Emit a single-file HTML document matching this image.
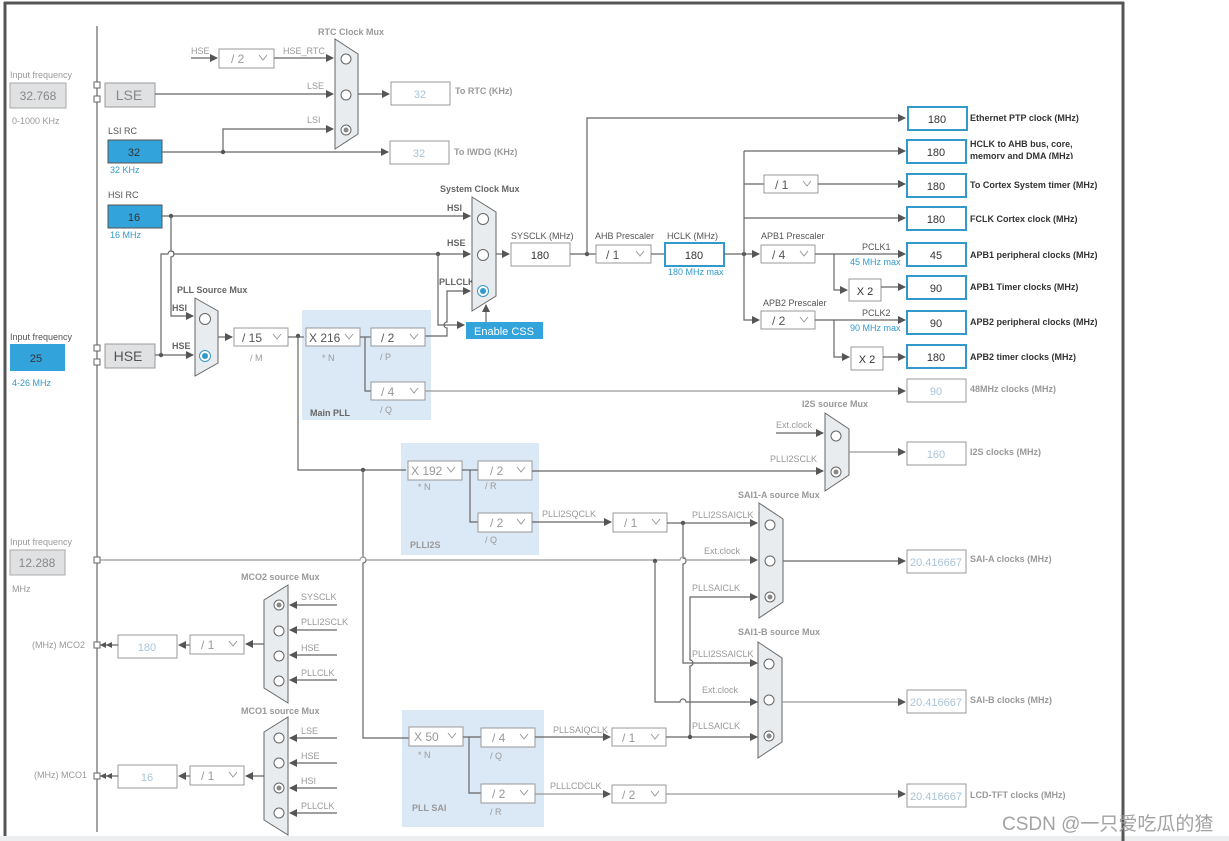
<!DOCTYPE html>
<html><head><meta charset="utf-8"><style>
html,body{margin:0;padding:0;background:#fff;}
svg{display:block;font-family:"Liberation Sans",sans-serif;}
.l{stroke:#666;stroke-width:1.2;fill:none;}
.lg{stroke:#999;stroke-width:1.2;fill:none;}
.dd{fill:#fff;stroke:#999;stroke-width:1;}
.ch{stroke:#999;stroke-width:1;fill:none;}
.mux{fill:#e9ecef;stroke:#666;stroke-width:1;}
.c{fill:#fff;stroke:#666;stroke-width:1;}
.t{font-size:9px;fill:#555;}
.tb{font-size:9px;fill:#333;font-weight:bold;}
.tg{font-size:9px;fill:#999;}
.dg{font-size:12px;fill:#999;}
.tgb{font-size:9px;fill:#999;font-weight:bold;}
.tm{font-size:9px;fill:#666;font-weight:bold;}
.v{font-size:11px;fill:#333;text-anchor:middle;}
.vg{font-size:11px;fill:#aac4d8;text-anchor:middle;}
.vd{font-size:12px;fill:#555;}
.blu{font-size:9px;fill:#3399cc;}
.ob{fill:#fff;stroke:#3399cc;stroke-width:2;}
.og{fill:#fff;stroke:#999;stroke-width:1;}
.pll{fill:#dbe8f5;}
</style></head><body>
<svg width="1229" height="841" viewBox="0 0 1229 841" xmlns="http://www.w3.org/2000/svg">
<defs>
<marker id="a" markerWidth="8" markerHeight="8" refX="7" refY="4" orient="auto" markerUnits="userSpaceOnUse"><path d="M0,0 L8,4 L0,8 z" fill="#555"/></marker>
</defs>
<rect x="0" y="836" width="1229" height="5" fill="#eceeef"/>
<line x1="4" y1="3" x2="1124" y2="3" stroke="#555" stroke-width="3"/>
<line x1="5" y1="2" x2="5" y2="836" stroke="#555" stroke-width="3"/>
<line x1="1123" y1="2" x2="1123" y2="841" stroke="#555" stroke-width="3"/>

<rect class="pll" x="302" y="310" width="129" height="110"/>
<rect class="pll" x="401" y="443" width="138" height="112"/>
<rect class="pll" x="402" y="710" width="142" height="117"/>

<line class="l" x1="97" y1="26" x2="97" y2="832"/>

<text class="tg" x="10" y="78">Input frequency</text>
<rect x="10" y="83" width="56" height="25" fill="#dfe1e3" stroke="#aaa"/>
<text x="38" y="100" font-size="12" fill="#888" text-anchor="middle">32.768</text>
<text class="tg" x="12" y="124">0-1000 KHz</text>
<rect x="105" y="83" width="50" height="24" fill="#dfe1e3" stroke="#999"/>
<text x="129" y="100" font-size="14" fill="#888" text-anchor="middle">LSE</text>
<rect x="94" y="82" width="6" height="6" fill="#fff" stroke="#666"/>
<rect x="94" y="96" width="6" height="6" fill="#fff" stroke="#666"/>

<text class="t" x="108" y="134">LSI RC</text>
<rect x="108" y="140" width="54" height="23" fill="#33a3dc" stroke="#555"/>
<text class="v" x="134" y="156">32</text>
<text class="blu" x="110" y="173">32 KHz</text>
<text class="t" x="108" y="198">HSI RC</text>
<rect x="108" y="205" width="54" height="23" fill="#33a3dc" stroke="#555"/>
<text class="v" x="134" y="221">16</text>
<text class="blu" x="110" y="238">16 MHz</text>

<text class="t" x="10" y="340">Input frequency</text>
<rect x="10" y="344" width="55" height="27" fill="#33a3dc"/>
<text class="v" x="36" y="362">25</text>
<text class="blu" x="12" y="386">4-26 MHz</text>
<rect x="105" y="344" width="50" height="24" fill="#dfe1e3" stroke="#999"/>
<text x="128" y="361" font-size="14" fill="#555" text-anchor="middle">HSE</text>
<rect x="94" y="345" width="6" height="6" fill="#fff" stroke="#666"/>
<rect x="94" y="359" width="6" height="6" fill="#fff" stroke="#666"/>

<text class="tg" x="10" y="545">Input frequency</text>
<rect x="10" y="550" width="55" height="25" fill="#dfe1e3" stroke="#aaa"/>
<text x="37" y="567" font-size="12" fill="#888" text-anchor="middle">12.288</text>
<text class="tg" x="12" y="592">MHz</text>
<rect x="94" y="557" width="6" height="6" fill="#fff" stroke="#666"/>

<text class="tgb" x="318" y="35">RTC Clock Mux</text>
<text class="tg" x="191" y="54">HSE</text>
<line class="l" x1="191" y1="58" x2="217" y2="58" marker-end="url(#a)"/>
<rect class="dd" x="219" y="49" width="55" height="19"/>
<text class="dg" x="231" y="63">/ 2</text>
<polyline class="ch" points="259,55 263,60 267,55"/>
<text class="tg" x="283" y="54">HSE_RTC</text>
<line class="l" x1="274" y1="58" x2="333" y2="58" marker-end="url(#a)"/>
<line class="l" x1="155" y1="94" x2="333" y2="94" marker-end="url(#a)"/>
<text class="tg" x="307" y="89">LSE</text>
<line class="l" x1="162" y1="152" x2="388" y2="152" marker-end="url(#a)"/>
<polyline class="l" points="223,152 223,129 333,129" marker-end="url(#a)"/>
<circle cx="223" cy="152" r="2.2" fill="#555"/>
<text class="tg" x="307" y="123">LSI</text>
<polygon class="mux" points="335,39 358,54 358,134 335,149"/>
<circle class="c" cx="346" cy="59" r="5"/>
<circle class="c" cx="346" cy="95" r="5"/>
<circle class="c" cx="346" cy="130" r="5"/><circle cx="346" cy="130" r="2.5" fill="#888"/>
<line class="l" x1="358" y1="94" x2="389" y2="94" marker-end="url(#a)"/>
<rect class="og" x="391" y="82" width="59" height="23"/>
<text class="vg" x="420" y="98">32</text>
<text class="tgb" x="455" y="94">To RTC (KHz)</text>
<rect class="og" x="390" y="141" width="59" height="23"/>
<text class="vg" x="419" y="157">32</text>
<text class="tgb" x="454" y="155">To IWDG (KHz)</text>

<line class="l" x1="162" y1="216" x2="470" y2="216" marker-end="url(#a)"/>
<circle cx="171" cy="216" r="2.2" fill="#555"/>
<path class="l" d="M171,216 V251 a3,3 0 0 1 0,6 V316 H193" marker-end="url(#a)"/>
<line class="l" x1="155" y1="355" x2="193" y2="355" marker-end="url(#a)"/>
<circle cx="161" cy="355" r="2.2" fill="#555"/>
<path class="l" d="M161,355 V254 H168 a3,3 0 0 1 6,0 H470" marker-end="url(#a)"/>
<circle cx="438" cy="254" r="2.2" fill="#555"/>
<path class="l" d="M438,254 V325 H464" marker-end="url(#a)"/>
<path class="l" d="M425,336 H447 V328 a3,3 0 0 1 0,-6 V291 H470" marker-end="url(#a)"/>
<text class="tm" x="447" y="211" fill="#333">HSI</text>
<text class="tm" x="447" y="246" fill="#333">HSE</text>
<text class="tm" x="439" y="285" fill="#333">PLLCLK</text>
<text class="tm" x="440" y="192">System Clock Mux</text>
<polygon class="mux" points="472,197 496,212 496,296 472,311"/>
<circle class="c" cx="483" cy="219" r="5.5"/>
<circle class="c" cx="483" cy="255" r="5.5"/>
<circle cx="483" cy="291" r="5.5" fill="#fff" stroke="#3399cc"/><circle cx="483" cy="291" r="3" fill="#3399cc"/>
<rect x="466" y="322" width="77" height="17" fill="#33a3dc"/>
<text x="504" y="335" font-size="11" fill="#fff" text-anchor="middle">Enable CSS</text>
<line class="l" x1="486" y1="322" x2="486" y2="305" marker-end="url(#a)"/>
<line class="l" x1="496" y1="254" x2="509" y2="254" marker-end="url(#a)"/>
<text class="t" x="511" y="239">SYSCLK (MHz)</text>
<rect class="og" x="511" y="243" width="59" height="23" stroke="#888"/>
<text class="v" x="540" y="259">180</text>

<text class="tm" x="177" y="293">PLL Source Mux</text>
<text class="tm" x="172" y="311" fill="#333">HSI</text>
<text class="tm" x="172" y="349" fill="#333">HSE</text>
<polygon class="mux" points="195,298 218,311 218,363 195,376"/>
<circle class="c" cx="205" cy="319" r="5.5"/>
<circle cx="205" cy="356" r="5.5" fill="#fff" stroke="#3399cc"/><circle cx="205" cy="356" r="3" fill="#3399cc"/>
<line class="l" x1="218" y1="337" x2="232" y2="337" marker-end="url(#a)"/>
<rect class="dd" x="234" y="328" width="54" height="18"/>
<text class="vd" x="242" y="342">/ 15</text><polyline class="ch" points="273,334 277,339 281,334"/>
<text class="tg" x="250" y="361">/ M</text>
<line class="l" x1="288" y1="337" x2="304" y2="337"/>
<circle cx="298" cy="336" r="2.2" fill="#555"/>
<rect class="dd" x="306" y="328" width="54" height="18"/>
<text class="vd" x="309" y="342">X 216</text><polyline class="ch" points="345,334 349,339 353,334"/>
<text class="tg" x="322" y="361">* N</text>
<line class="l" x1="360" y1="337" x2="371" y2="337"/>
<polyline class="l" points="365,337 365,391 371,391"/>
<rect class="dd" x="371" y="328" width="54" height="18"/>
<text class="vd" x="381" y="342">/ 2</text><polyline class="ch" points="410,334 414,339 418,334"/>
<text class="tg" x="380" y="360">/ P</text>
<rect class="dd" x="371" y="382" width="54" height="18"/>
<text class="dg" x="381" y="396">/ 4</text><polyline class="ch" points="410,388 414,393 418,388"/>
<text class="tg" x="380" y="413">/ Q</text>
<text class="tm" x="310" y="416">Main PLL</text>
<line class="lg" x1="425" y1="391" x2="905" y2="391" marker-end="url(#a)"/>
<rect class="og" x="907" y="379" width="59" height="23"/>
<text class="vg" x="936" y="395">90</text>
<text class="tgb" x="970" y="392">48MHz clocks (MHz)</text>

<line class="l" x1="570" y1="254" x2="596" y2="254"/>
<circle cx="587" cy="254" r="2.2" fill="#555"/>
<polyline class="l" points="587,254 587,118 905,118" marker-end="url(#a)"/>
<text class="t" x="595" y="239">AHB Prescaler</text>
<rect class="dd" x="596" y="245" width="55" height="18"/>
<text class="vd" x="606" y="259">/ 1</text><polyline class="ch" points="636,251 640,256 644,251"/>
<line class="l" x1="651" y1="254" x2="665" y2="254"/>
<text class="t" x="667" y="239">HCLK (MHz)</text>
<rect class="ob" x="665" y="243" width="59" height="23"/>
<text class="v" x="694" y="259">180</text>
<text class="blu" x="668" y="275">180 MHz max</text>
<line class="l" x1="724" y1="254" x2="759" y2="254" marker-end="url(#a)"/>
<circle cx="744" cy="254" r="2.2" fill="#555"/>
<polyline class="l" points="744,151 744,320 759,320" marker-end="url(#a)"/>
<line class="l" x1="744" y1="151" x2="905" y2="151" marker-end="url(#a)"/>
<line class="l" x1="744" y1="184" x2="764" y2="184"/>
<rect class="dd" x="764" y="175" width="54" height="18"/>
<text class="vd" x="775" y="189">/ 1</text><polyline class="ch" points="803,181 807,186 811,181"/>
<line class="l" x1="818" y1="184" x2="905" y2="184" marker-end="url(#a)"/>
<line class="l" x1="744" y1="218" x2="905" y2="218" marker-end="url(#a)"/>
<text class="t" x="761" y="239">APB1 Prescaler</text>
<rect class="dd" x="761" y="245" width="54" height="18"/>
<text class="vd" x="772" y="259">/ 4</text><polyline class="ch" points="800,251 804,256 808,251"/>
<line class="l" x1="815" y1="254" x2="905" y2="254" marker-end="url(#a)"/>
<polyline class="l" points="834,254 834,290 847,290" marker-end="url(#a)"/>
<rect class="og" x="849" y="279" width="32" height="22" stroke="#888"/>
<text class="v" x="865" y="295">X 2</text>
<line class="l" x1="881" y1="287" x2="905" y2="287" marker-end="url(#a)"/>
<text class="t" x="862" y="250" fill="#333">PCLK1</text>
<text class="blu" x="850" y="265">45 MHz max</text>
<text class="t" x="763" y="306">APB2 Prescaler</text>
<rect class="dd" x="761" y="311" width="54" height="18"/>
<text class="vd" x="772" y="325">/ 2</text><polyline class="ch" points="800,317 804,322 808,317"/>
<line class="l" x1="815" y1="320" x2="905" y2="320" marker-end="url(#a)"/>
<polyline class="l" points="834,320 834,357 849,357" marker-end="url(#a)"/>
<rect class="og" x="851" y="347" width="32" height="23" stroke="#888"/>
<text class="v" x="867" y="363">X 2</text>
<line class="l" x1="883" y1="357" x2="905" y2="357" marker-end="url(#a)"/>
<text class="t" x="862" y="316" fill="#333">PCLK2</text>
<text class="blu" x="850" y="331">90 MHz max</text>

<rect class="ob" x="908" y="107" width="59" height="23"/><text class="v" x="937" y="123">180</text>
<rect class="ob" x="907" y="140" width="59" height="23"/><text class="v" x="936" y="156">180</text>
<rect class="ob" x="907" y="174" width="59" height="23"/><text class="v" x="936" y="190">180</text>
<rect class="ob" x="907" y="207" width="59" height="23"/><text class="v" x="936" y="223">180</text>
<rect class="ob" x="907" y="243" width="59" height="23"/><text class="v" x="936" y="259">45</text>
<rect class="ob" x="907" y="276" width="59" height="23"/><text class="v" x="936" y="292">90</text>
<rect class="ob" x="907" y="311" width="59" height="23"/><text class="v" x="936" y="327">90</text>
<rect class="ob" x="907" y="345" width="59" height="23"/><text class="v" x="936" y="361">180</text>
<text class="tb" x="970" y="121">Ethernet PTP clock (MHz)</text>
<text class="tb" x="970" y="147">HCLK to AHB bus, core,</text>
<svg x="970" y="150" width="120" height="9" overflow="hidden"><text class="tb" x="0" y="9">memory and DMA (MHz)</text></svg>
<text class="tb" x="970" y="188">To Cortex System timer (MHz)</text>
<text class="tb" x="970" y="222">FCLK Cortex clock (MHz)</text>
<text class="tb" x="970" y="258">APB1 peripheral clocks (MHz)</text>
<text class="tb" x="970" y="290">APB1 Timer clocks (MHz)</text>
<text class="tb" x="970" y="325">APB2 peripheral clocks (MHz)</text>
<text class="tb" x="970" y="360">APB2 timer clocks (MHz)</text>

<polyline class="l" points="298,336 298,470 406,470"/>
<circle cx="363" cy="470" r="2.2" fill="#555"/>
<path class="l" d="M363,470 V557 a3,3 0 0 1 0,6 V738 H409"/>
<rect class="dd" x="408" y="461" width="54" height="19"/>
<text class="dg" x="411" y="475">X 192</text><polyline class="ch" points="447,467 451,472 455,467"/>
<text class="tg" x="418" y="490">* N</text>
<line class="l" x1="462" y1="470" x2="478" y2="470"/>
<polyline class="l" points="470,470 470,522 478,522"/>
<rect class="dd" x="478" y="461" width="54" height="19"/>
<text class="dg" x="490" y="475">/ 2</text><polyline class="ch" points="517,467 521,472 525,467"/>
<text class="tg" x="485" y="489">/ R</text>
<rect class="dd" x="478" y="513" width="54" height="19"/>
<text class="dg" x="490" y="527">/ 2</text><polyline class="ch" points="517,519 521,524 525,519"/>
<text class="tg" x="485" y="543">/ Q</text>
<text class="tgb" x="410" y="548">PLLI2S</text>
<line class="l" x1="532" y1="471" x2="823" y2="471" marker-end="url(#a)"/>
<line class="l" x1="532" y1="522" x2="611" y2="522" marker-end="url(#a)"/>
<text class="tg" x="542" y="517">PLLI2SQCLK</text>

<text class="tgb" x="802" y="407">I2S source Mux</text>
<text class="tg" x="776" y="428">Ext.clock</text>
<line class="l" x1="776" y1="433" x2="823" y2="433" marker-end="url(#a)"/>
<text class="tg" x="770" y="462">PLLI2SCLK</text>
<polygon class="mux" points="825,413 849,429 849,475 825,491"/>
<circle class="c" cx="836" cy="436" r="5"/>
<circle class="c" cx="836" cy="472" r="5"/><circle cx="836" cy="472" r="2.5" fill="#888"/>
<line class="lg" x1="849" y1="452" x2="905" y2="452" marker-end="url(#a)"/>
<rect class="og" x="907" y="442" width="59" height="23"/><text class="vg" x="936" y="458">160</text>
<text class="tgb" x="970" y="455">I2S clocks (MHz)</text>

<rect class="dd" x="613" y="513" width="54" height="19"/>
<text class="dg" x="624" y="527">/ 1</text><polyline class="ch" points="652,519 656,524 660,519"/>
<line class="l" x1="667" y1="523" x2="757" y2="523" marker-end="url(#a)"/>
<circle cx="683" cy="523" r="2.2" fill="#555"/>
<path class="l" d="M683,523 V558 a3,3 0 0 1 0,6 V663 H757" marker-end="url(#a)"/>
<text class="tg" x="692" y="518">PLLI2SSAICLK</text>
<path class="lg" d="M100,560 H360 a3,3 0 0 1 6,0 H680 a3,3 0 0 1 6,0 H757" marker-end="url(#a)"/>
<circle cx="655" cy="561" r="2.2" fill="#555"/>
<path class="l" d="M655,561 V702 H680 a3,3 0 0 1 6,0 H757" marker-end="url(#a)"/>
<text class="tg" x="704" y="554">Ext.clock</text>
<path class="l" d="M690,737 V666 a3,3 0 0 0 0,-6 V597 H757" marker-end="url(#a)"/>
<text class="tg" x="692" y="591">PLLSAICLK</text>
<text class="tgb" x="738" y="498">SAI1-A source Mux</text>
<polygon class="mux" points="759,503 783,519 783,602 759,618"/>
<circle class="c" cx="770" cy="525" r="5"/>
<circle class="c" cx="770" cy="561" r="5"/>
<circle class="c" cx="770" cy="597" r="5"/><circle cx="770" cy="597" r="2.5" fill="#888"/>
<line class="l" x1="783" y1="561" x2="905" y2="561" marker-end="url(#a)"/>
<rect class="og" x="907" y="550" width="59" height="23"/><text class="vg" x="936" y="566">20.416667</text>
<text class="tgb" x="970" y="562">SAI-A clocks (MHz)</text>
<text class="tgb" x="738" y="635">SAI1-B source Mux</text>
<text class="tg" x="692" y="657">PLLI2SSAICLK</text>
<text class="tg" x="702" y="693">Ext.clock</text>
<text class="tg" x="692" y="729">PLLSAICLK</text>
<polygon class="mux" points="758,642 782,658 782,742 758,758"/>
<circle class="c" cx="769" cy="664" r="5"/>
<circle class="c" cx="769" cy="700" r="5"/>
<circle class="c" cx="769" cy="736" r="5"/><circle cx="769" cy="736" r="2.5" fill="#888"/>
<line class="lg" x1="782" y1="702" x2="905" y2="702" marker-end="url(#a)"/>
<rect class="og" x="907" y="690" width="59" height="23"/><text class="vg" x="936" y="706">20.416667</text>
<text class="tgb" x="970" y="703">SAI-B clocks (MHz)</text>

<rect class="dd" x="409" y="727" width="54" height="19"/>
<text class="dg" x="414" y="741">X 50</text><polyline class="ch" points="448,733 452,738 456,733"/>
<text class="tg" x="418" y="758">* N</text>
<line class="l" x1="463" y1="737" x2="481" y2="737"/>
<polyline class="l" points="469,737 469,793 481,793"/>
<rect class="dd" x="481" y="728" width="54" height="19"/>
<text class="dg" x="492" y="742">/ 4</text><polyline class="ch" points="520,734 524,739 528,734"/>
<text class="tg" x="490" y="759">/ Q</text>
<rect class="dd" x="481" y="784" width="54" height="19"/>
<text class="dg" x="492" y="798">/ 2</text><polyline class="ch" points="520,790 524,795 528,790"/>
<text class="tg" x="490" y="815">/ R</text>
<text class="tgb" x="412" y="811">PLL SAI</text>
<line class="l" x1="535" y1="737" x2="610" y2="737" marker-end="url(#a)"/>
<text class="tg" x="553" y="733">PLLSAIQCLK</text>
<rect class="dd" x="612" y="728" width="54" height="18"/>
<text class="dg" x="622" y="742">/ 1</text><polyline class="ch" points="651,734 655,739 659,734"/>
<line class="l" x1="666" y1="737" x2="757" y2="737" marker-end="url(#a)"/>
<circle cx="690" cy="737" r="2.2" fill="#555"/>
<line class="lg" x1="535" y1="794" x2="610" y2="794" marker-end="url(#a)"/>
<text class="tg" x="550" y="789">PLLLCDCLK</text>
<rect class="dd" x="612" y="785" width="54" height="18"/>
<text class="dg" x="622" y="799">/ 2</text><polyline class="ch" points="651,791 655,796 659,791"/>
<line class="lg" x1="666" y1="794" x2="905" y2="794" marker-end="url(#a)"/>
<rect class="og" x="907" y="784" width="59" height="23"/><text class="vg" x="936" y="800">20.416667</text>
<text class="tgb" x="970" y="798">LCD-TFT clocks (MHz)</text>

<text class="tgb" x="241" y="580">MCO2 source Mux</text>
<polygon class="mux" points="264,600 288,585 288,703 264,688"/>
<circle class="c" cx="279" cy="605" r="5"/><circle cx="279" cy="605" r="2.5" fill="#888"/>
<circle class="c" cx="279" cy="631" r="5"/>
<circle class="c" cx="279" cy="656" r="5"/>
<circle class="c" cx="279" cy="681" r="5"/>
<line class="l" x1="337" y1="605" x2="290" y2="605" marker-end="url(#a)"/>
<line class="l" x1="337" y1="630" x2="290" y2="630" marker-end="url(#a)"/>
<line class="l" x1="337" y1="655" x2="290" y2="655" marker-end="url(#a)"/>
<line class="l" x1="337" y1="680" x2="290" y2="680" marker-end="url(#a)"/>
<text class="tg" x="301" y="600">SYSCLK</text>
<text class="tg" x="301" y="625">PLLI2SCLK</text>
<text class="tg" x="301" y="651">HSE</text>
<text class="tg" x="301" y="676">PLLCLK</text>
<line class="l" x1="264" y1="644" x2="246" y2="644" marker-end="url(#a)"/>
<rect class="dd" x="190" y="635" width="54" height="19"/>
<text class="dg" x="201" y="649">/ 1</text><polyline class="ch" points="229,641 233,646 237,641"/>
<line class="l" x1="190" y1="645" x2="179" y2="645" marker-end="url(#a)"/>
<rect class="og" x="118" y="635" width="59" height="23"/><text class="vg" x="147" y="651">180</text>
<line class="l" x1="118" y1="645" x2="100" y2="645"/>
<path d="M100,645 l6,-3 v6z M106,645 l6,-3 v6z" fill="#555"/>
<rect x="94" y="642" width="6" height="6" fill="#fff" stroke="#666"/>
<text class="tg" x="32" y="648">(MHz) MCO2</text>

<text class="tgb" x="241" y="714">MCO1 source Mux</text>
<polygon class="mux" points="264,732 288,717 288,835 264,820"/>
<circle class="c" cx="279" cy="738" r="5"/>
<circle class="c" cx="279" cy="763" r="5"/>
<circle class="c" cx="279" cy="788" r="5"/><circle cx="279" cy="788" r="2.5" fill="#888"/>
<circle class="c" cx="279" cy="813" r="5"/>
<line class="l" x1="337" y1="738" x2="290" y2="738" marker-end="url(#a)"/>
<line class="l" x1="337" y1="763" x2="290" y2="763" marker-end="url(#a)"/>
<line class="l" x1="337" y1="788" x2="290" y2="788" marker-end="url(#a)"/>
<line class="l" x1="337" y1="813" x2="290" y2="813" marker-end="url(#a)"/>
<text class="tg" x="301" y="734">LSE</text>
<text class="tg" x="301" y="759">HSE</text>
<text class="tg" x="301" y="784">HSI</text>
<text class="tg" x="301" y="809">PLLCLK</text>
<line class="l" x1="264" y1="776" x2="246" y2="776" marker-end="url(#a)"/>
<rect class="dd" x="190" y="766" width="54" height="19"/>
<text class="dg" x="201" y="780">/ 1</text><polyline class="ch" points="229,772 233,777 237,772"/>
<line class="l" x1="190" y1="776" x2="179" y2="776" marker-end="url(#a)"/>
<rect class="og" x="118" y="765" width="59" height="23"/><text class="vg" x="147" y="781">16</text>
<line class="l" x1="118" y1="776" x2="100" y2="776"/>
<path d="M100,776 l6,-3 v6z M106,776 l6,-3 v6z" fill="#555"/>
<rect x="94" y="773" width="6" height="6" fill="#fff" stroke="#666"/>
<text class="tg" x="34" y="778">(MHz) MCO1</text>

<text x="1002" y="830" font-size="19" fill="#999" opacity="0.9" font-family="'Liberation Sans','Noto Sans CJK SC',sans-serif">CSDN @一只爱吃瓜的猹</text>
</svg>
</body></html>
